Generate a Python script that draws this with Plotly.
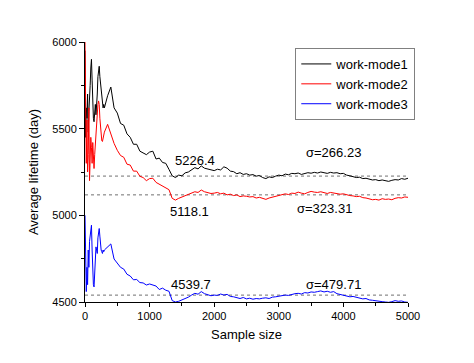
import plotly.graph_objects as go

# Sample sizes (shared x grid)
sample_size = list(range(0, 300, 10)) + list(range(300, 5001, 50))

mode1 = ([5950, 5450, 5620, 5560, 5700, 5480, 5600, 5650, 5750, 5850,
          5900, 5780, 5620, 5560, 5540, 5600, 5640, 5580, 5620, 5700,
          5800, 5840, 5860, 5800, 5760, 5700, 5660, 5640, 5620, 5640]
         + [5620, 5690, 5740, 5620, 5590, 5530, 5520, 5470, 5450, 5410, 5410, 5370,
            5360, 5350, 5365, 5370, 5325, 5330, 5305, 5300, 5265, 5228, 5218]
         + [5232, 5228, 5245, 5250, 5262, 5275, 5268, 5285, 5272, 5268, 5262, 5258]
         + [5266, 5262, 5280, 5272, 5255, 5252, 5240, 5246, 5236, 5240,
            5232, 5235, 5226, 5230, 5218, 5212, 5222, 5218, 5226, 5232]
         + [5228, 5238, 5234, 5242, 5240, 5244, 5236, 5240, 5246, 5243,
            5248, 5244, 5250, 5246, 5242, 5248, 5244, 5246, 5240, 5242]
         + [5232, 5228, 5222, 5218, 5220, 5212, 5214, 5208, 5204, 5206,
            5200, 5204, 5198, 5196, 5202, 5206, 5204, 5212, 5208, 5214])

mode2 = ([6000, 5450, 5300, 5550, 5250, 5350, 5620, 5200, 5300, 5450,
          5390, 5300, 5420, 5350, 5270, 5350, 5420, 5500, 5560, 5620,
          5640, 5660, 5640, 5560, 5500, 5460, 5430, 5426, 5450, 5470]
         + [5480, 5525, 5470, 5415, 5375, 5345, 5335, 5295, 5290, 5255, 5255, 5225,
            5218, 5200, 5212, 5214, 5190, 5180, 5168, 5162, 5148, 5098, 5088]
         + [5098, 5106, 5112, 5118, 5128, 5136, 5132, 5146, 5136, 5130, 5126, 5128]
         + [5132, 5124, 5128, 5118, 5122, 5114, 5118, 5108, 5112, 5110,
            5106, 5108, 5100, 5104, 5096, 5092, 5100, 5104, 5110, 5116]
         + [5118, 5124, 5120, 5128, 5126, 5134, 5128, 5124, 5132, 5138,
            5134, 5132, 5136, 5130, 5126, 5132, 5128, 5126, 5122, 5124]
         + [5118, 5114, 5112, 5108, 5110, 5102, 5100, 5094, 5090, 5092,
            5088, 5096, 5092, 5094, 5090, 5098, 5102, 5100, 5106, 5104])

mode3 = ([5000, 4600, 4560, 4700, 4600, 4800, 4700, 4850, 4900, 4940,
          4943, 4800, 4650, 4600, 4587, 4700, 4780, 4818, 4800, 4780,
          4870, 4910, 4924, 4880, 4820, 4800, 4790, 4780, 4800, 4790]
         + [4800, 4815, 4835, 4748, 4725, 4700, 4690, 4660, 4650, 4628, 4630, 4612,
            4610, 4598, 4604, 4600, 4592, 4572, 4580, 4568, 4562, 4508, 4500]
         + [4504, 4512, 4518, 4528, 4540, 4550, 4545, 4560, 4548, 4542, 4536, 4540]
         + [4538, 4546, 4540, 4544, 4532, 4530, 4524, 4520, 4526, 4518,
            4522, 4516, 4520, 4518, 4522, 4524, 4520, 4528, 4530, 4534]
         + [4536, 4540, 4538, 4544, 4548, 4550, 4546, 4554, 4552, 4558,
            4556, 4560, 4564, 4558, 4562, 4556, 4560, 4548, 4544, 4540]
         + [4536, 4530, 4532, 4526, 4524, 4518, 4520, 4512, 4510, 4506,
            4504, 4502, 4500, 4498, 4502, 4508, 4504, 4506, 4500, 4498])

series_names = ["work-mode1", "work-mode2", "work-mode3"]
series_colors = ["#000000", "#ff0000", "#0000ff"]
converged = [5226.4, 5118.1, 4539.7]
sigmas = ["σ=266.23", "σ=323.31", "σ=479.71"]

font_family = "Liberation Sans, Arial, sans-serif"

fig = go.Figure()

# dotted reference lines at converged means
for v in converged:
    fig.add_trace(go.Scatter(x=[0, 5000], y=[v, v], mode="lines",
                             line=dict(color="#707070", width=1, dash="dot"),
                             showlegend=False, hoverinfo="skip"))

for name, col, ys in zip(series_names, series_colors, [mode1, mode2, mode3]):
    fig.add_trace(go.Scatter(x=sample_size[:len(ys)], y=ys, mode="lines", name=name,
                             line=dict(color=col, width=1)))

# annotations
mean_pos = [(1703, 5314), (1625, 5022), (1643, 4601)]
sigma_pos = [(3844, 5365), (3715, 5041), (3844, 4601)]
for v, (ax, ay) in zip(converged, mean_pos):
    fig.add_annotation(x=ax, y=ay, text=f"{v}", showarrow=False,
                       font=dict(size=13, color="black", family=font_family))
for s, (ax, ay) in zip(sigmas, sigma_pos):
    fig.add_annotation(x=ax, y=ay, text=s, showarrow=False,
                       font=dict(size=13, color="black", family=font_family))

fig.update_layout(
    width=466, height=355,
    margin=dict(l=77, r=66, t=34, b=61),
    paper_bgcolor="white", plot_bgcolor="white",
    font=dict(family=font_family, size=11, color="black"),
    legend=dict(x=0.651, y=0.977, xanchor="left", yanchor="top",
                bordercolor="#808080", borderwidth=1, bgcolor="white",
                font=dict(size=13, family=font_family),
                itemwidth=30, tracegroupgap=0),
    xaxis=dict(range=[0, 5000], dtick=1000, tick0=0, automargin=False,
               showline=True, linecolor="black", linewidth=1,
               ticks="outside", ticklen=4, tickcolor="black",
               minor=dict(dtick=500, ticklen=3, ticks="outside", tickcolor="black"),
               showgrid=False, zeroline=False,
               title=dict(text="Sample size", font=dict(size=13), standoff=8),
               tickfont=dict(size=11)),
    yaxis=dict(range=[4500, 6000], dtick=500, tick0=4500, automargin=False,
               showline=True, linecolor="black", linewidth=1,
               ticks="outside", ticklen=5, tickcolor="black",
               minor=dict(dtick=250, ticklen=3, ticks="outside", tickcolor="black"),
               showgrid=False, zeroline=False,
               title=dict(text="Average lifetime (day)", font=dict(size=13), standoff=10),
               tickfont=dict(size=11)),
)

fig.write_html("out.html")
